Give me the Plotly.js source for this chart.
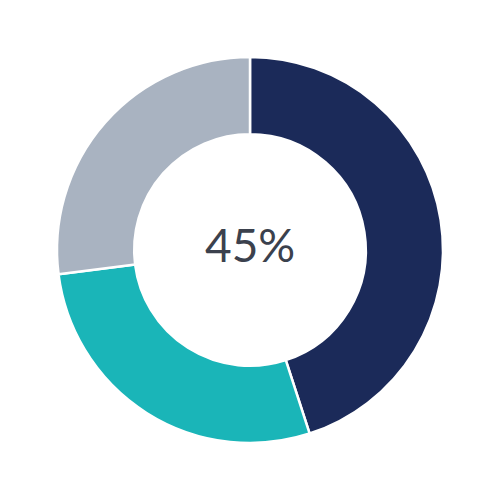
<!DOCTYPE html>
<html>
<head>
<meta charset="utf-8">
<script src="https://cdn.plot.ly/plotly-3.0.1.min.js"></script>
<style>
  html, body { margin: 0; padding: 0; background: #fff; }
  #chart { width: 500px; height: 500px; }
</style>
</head>
<body>
<div id="chart"></div>
<script>
// slice values in percent, clockwise from 12 o'clock
var labels = ["Navy", "Teal", "Gray"];
var values = [45, 28, 27];
var colors = ["#1b2a59", "#1ab5b8", "#a9b3c1"];
var centerLabel = "45%";

var data = [{
  type: "pie",
  labels: labels,
  values: values,
  hole: 0.6,
  sort: false,
  direction: "clockwise",
  rotation: 0,
  textinfo: "none",
  hoverinfo: "none",
  marker: { colors: colors, line: { color: "#ffffff", width: 2.5 } }
}];

var layout = {
  width: 500,
  height: 500,
  margin: { l: 57, r: 57, t: 57, b: 57 },
  showlegend: false,
  paper_bgcolor: "#ffffff",
  annotations: [{
    text: centerLabel,
    x: 0.5, y: 0.5,
    yshift: 6,
    xref: "paper", yref: "paper",
    showarrow: false,
    font: { family: "Lato", size: 46, color: "#3b414d", weight: 400 }
  }]
};

Plotly.newPlot("chart", data, layout, { staticPlot: true });
</script>
</body>
</html>
